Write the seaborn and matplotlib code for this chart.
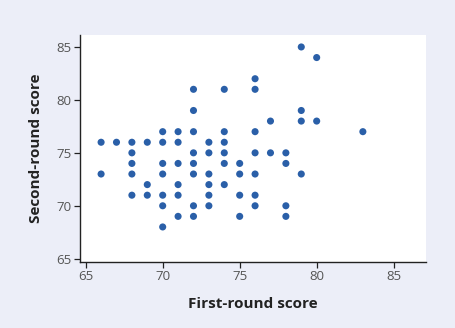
import matplotlib
matplotlib.use("Agg")
import matplotlib.pyplot as plt
import seaborn as sns
import pandas as pd

first_round = [66, 66, 67,
               68, 68, 68, 68, 68,
               69, 69, 69,
               70, 70, 70, 70, 70, 70, 70,
               71, 71, 71, 71, 71, 71,
               72, 72, 72, 72, 72, 72, 72, 72,
               73, 73, 73, 73, 73, 73,
               74, 74, 74, 74, 74, 74,
               75, 75, 75, 75,
               76, 76, 76, 76, 76, 76, 76,
               77, 77,
               78, 78, 78, 78,
               79, 79, 79, 79,
               80, 80,
               83]
second_round = [76, 73, 76,
                76, 75, 74, 73, 71,
                76, 72, 71,
                77, 76, 74, 73, 71, 70, 68,
                77, 76, 74, 72, 71, 69,
                81, 79, 77, 75, 74, 73, 70, 69,
                76, 75, 73, 72, 71, 70,
                81, 77, 76, 75, 74, 72,
                74, 73, 71, 69,
                82, 81, 77, 75, 73, 71, 70,
                78, 75,
                75, 74, 70, 69,
                85, 79, 78, 73,
                84, 78,
                77]
x_ticks = [65, 70, 75, 80, 85]
y_ticks = [65, 70, 75, 80, 85]

df = pd.DataFrame({"First-round score": first_round, "Second-round score": second_round})

sns.set_theme(style="ticks")
plt.rcParams['font.family'] = ['Open Sans', 'DejaVu Sans']

bg = "#eceef8"
fig = plt.figure(figsize=(4.56, 3.28), dpi=100, facecolor=bg)
ax = fig.add_axes([80/456, 1 - 262/328, (426-80)/456, (262-35)/328])
ax.set_facecolor("white")

sns.scatterplot(data=df, x="First-round score", y="Second-round score", ax=ax,
                color="#2a5fa8", s=26, edgecolor="none", linewidth=0)

ax.set_xlim(64.63, 87.1)
ax.set_ylim(64.69, 86.13)
ax.set_xticks(x_ticks)
ax.set_yticks(y_ticks)
ax.tick_params(axis="both", labelsize=9.5, colors="#222222", labelcolor="#555555",
               length=4, width=0.9, pad=2)
for side in ["top", "right"]:
    ax.spines[side].set_visible(False)
for side in ["left", "bottom"]:
    ax.spines[side].set_color("#222222")
    ax.spines[side].set_linewidth(1.0)

ax.set_xlabel("First-round score", fontsize=11, fontweight="bold", color="#222222", labelpad=10)
ax.set_ylabel("Second-round score", fontsize=11, fontweight="bold", color="#222222", labelpad=10)

fig.savefig("out.png", dpi=100, facecolor=bg)
